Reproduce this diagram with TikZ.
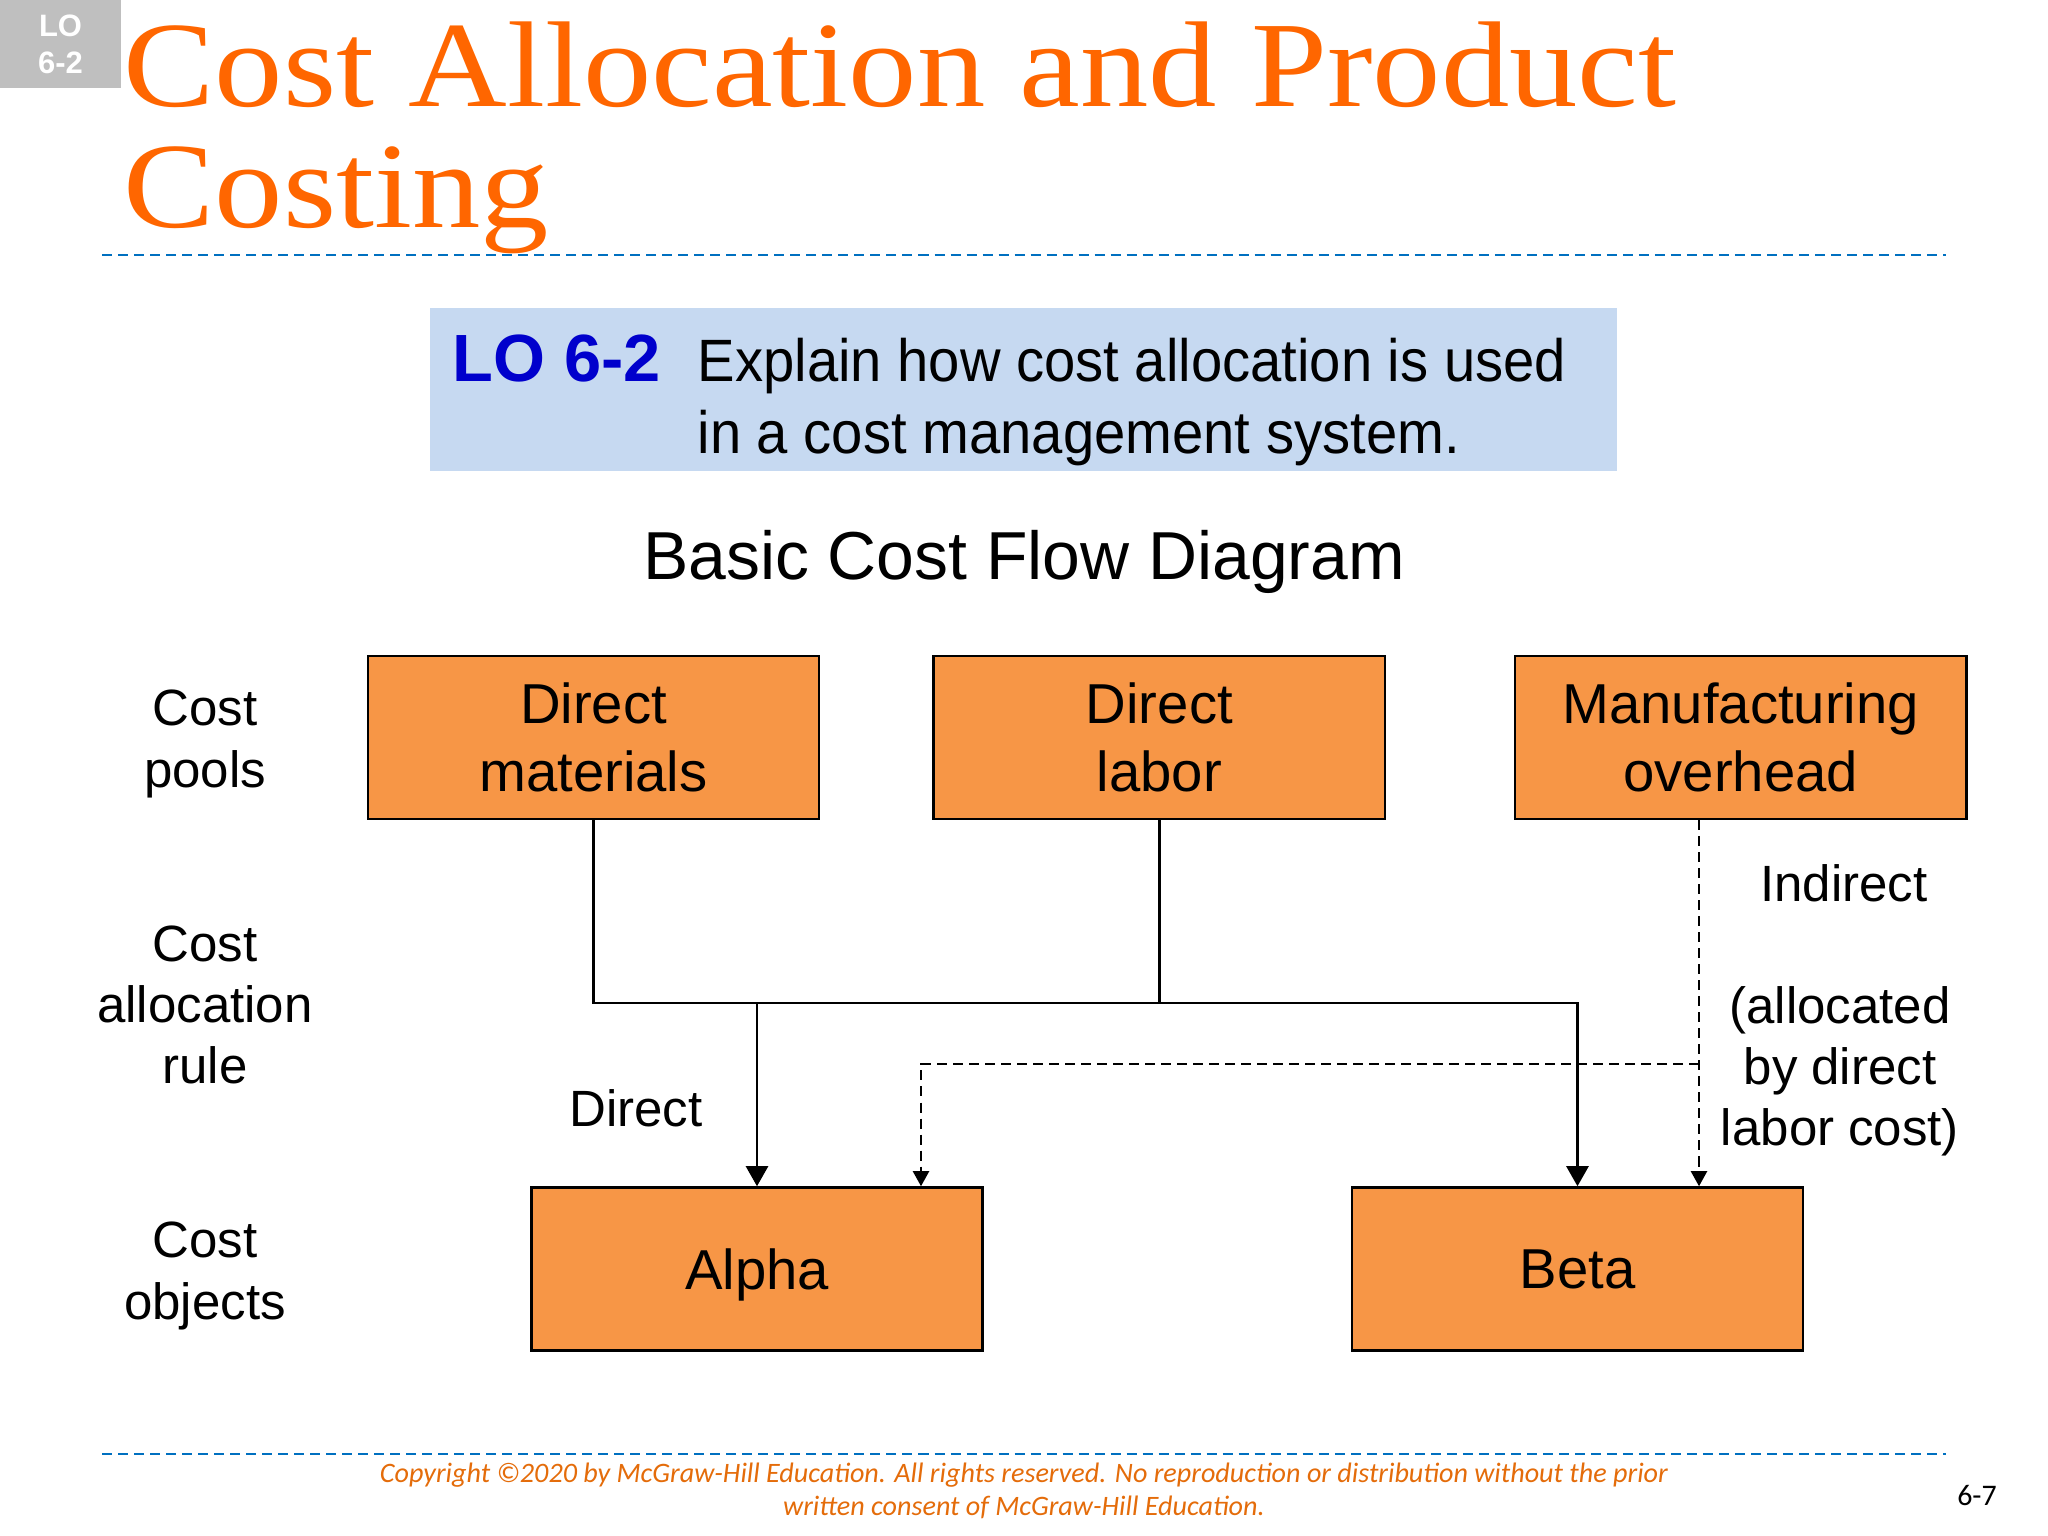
\documentclass[tikz,border=0pt]{standalone}
\usepackage{fontspec}
\usepackage{tikz}
\usetikzlibrary{arrows.meta}
\setmainfont{Liberation Sans}
\newfontfamily\titleserif[FakeStretch=1.12]{Liberation Serif}
\newfontfamily\loface[FakeStretch=0.94]{Liberation Sans}
\newfontfamily\copyface{Carlito}

\definecolor{titleorange}{RGB}{255,102,0}
\definecolor{boxorange}{RGB}{247,150,70}
\definecolor{lobg}{RGB}{198,217,241}
\definecolor{loblue}{RGB}{0,0,204}
\definecolor{linkblue}{RGB}{0,112,192}
\definecolor{tabgray}{RGB}{191,191,191}
\definecolor{copyorange}{RGB}{228,108,10}

\begin{document}
\begin{tikzpicture}[x=0.01cm, y=-0.01cm, node distance=5.7cm]
% Define styles
\tikzstyle{pool} = [rectangle, minimum width=4.51cm, minimum height=1.63cm, align=center, draw=black, line width=0.7pt, fill=boxorange, font=\fontsize{16}{19.3}\selectfont]
\tikzstyle{side} = [inner sep=0pt, align=center, font=\fontsize{14.5}{17.4}\selectfont]
\tikzstyle{divider} = [linkblue, line width=0.8pt, dash pattern=on 0.1cm off 0.06cm]
\tikzstyle{conn} = [line width=0.7pt]
\tikzstyle{arrow} = [line width=0.7pt, -{Triangle[length=0.2cm, width=0.22cm]}]
\tikzstyle{dasharrow} = [line width=0.6pt, dash pattern=on 0.1cm off 0.06cm, -{Triangle[length=0.15cm, width=0.16cm]}]

\useasboundingbox (0,0) rectangle (2048,1536);

% Header
\node (lotab) [fill=tabgray, text=white, minimum width=1.21cm, minimum height=0.88cm, inner sep=0pt, align=center, font=\bfseries\fontsize{8.8}{10.5}\selectfont] at (60.5,44) {LO\\6-2};
\node (title) [anchor=north west, inner sep=0pt, align=left, text=titleorange, font=\titleserif\fontsize{34.7}{34.4}\selectfont] at (123,21) {Cost Allocation and Product\\Costing};
\draw [divider] (102,255) -- (1946,255);

\node (lobox) [fill=lobg, minimum width=11.87cm, minimum height=1.63cm] at (1023.5,389.5) {};
\node (lotag) [anchor=base west, inner sep=0pt, text=loblue, font=\bfseries\fontsize{19}{20}\selectfont] at (452,381) {LO 6-2};
\node (loexpl) [anchor=north west, inner sep=0pt, align=left, font=\loface\fontsize{17}{20.5}\selectfont] at (697,337) {Explain how cost allocation is used\\in a cost management system.};

\node (heading) [anchor=base, inner sep=0pt, font=\fontsize{19.3}{23}\selectfont] at (1024,579) {Basic Cost Flow Diagram};

% Draw nodes
\node (dm) [pool] at (593.5,737.5) {Direct\\materials};
\node (dl) [pool, right of=dm, xshift=-0.045cm] {Direct\\labor};
\node (mo) [pool, right of=dl, xshift=0.11cm] {Manufacturing\\overhead};
\node (alpha) [pool, text depth=0pt] at (757,1269) {Alpha};
\node (beta) [pool, text depth=0pt] [right of=alpha, xshift=2.5cm] {Beta};

\node (pools) [side] at (205,744) {Cost\\pools};
\node (rule) [side] at (205,1005) {Cost\\allocation\\rule};
\node (objects) [side] at (205,1276) {Cost\\objects};
\node (direct) [side, anchor=base] at (636,1126) {Direct};
\node (indirect) [side, anchor=base] at (1844,901) {Indirect};
\node (basis) [side] at (1840,1071) {(allocated\\by direct\\labor cost)};

\coordinate (bus) at (0,1003);
\coordinate (ind) at (1699,1064);
\coordinate (indA) at (921,1064);

% Draw arrows
\draw [arrow] (dm.south) |- (beta.north |- bus) -- (beta.north);
\draw [conn] (dl.south) -- (dl.south |- bus);
\draw [arrow] (alpha.north |- bus) -- (alpha.north);
\draw [dasharrow] (mo.south -| ind) -- (beta.north -| ind);
\draw [dasharrow] (ind) -- (indA) -- (alpha.north -| indA);

% Footer
\draw [divider] (102,1454) -- (1946,1454);
\node (copy) [inner sep=0pt, align=center, text=copyorange, font=\copyface\itshape\fontsize{8}{9.4}\selectfont] at (1024,1491) {Copyright \textcopyright2020 by McGraw-Hill Education. All rights reserved. No reproduction or distribution without the prior\\written consent of McGraw-Hill Education.};
\node (page) [anchor=base, inner sep=0pt, font=\copyface\fontsize{8.5}{10}\selectfont] at (1977,1505) {6-7};
\end{tikzpicture}
\end{document}
